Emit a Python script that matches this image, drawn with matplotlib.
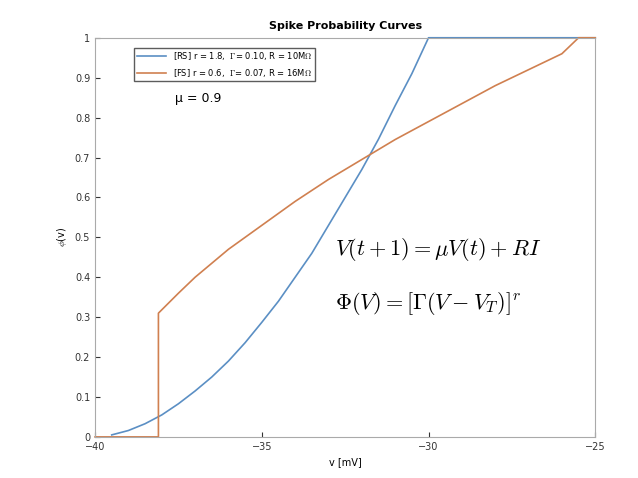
import matplotlib.pyplot as plt
import numpy as np

plt.rcParams['mathtext.fontset'] = 'cm'

# [RS] curve
rs_v = [-39.5, -39, -38.5, -38, -37.5, -37, -36.5, -36, -35.5, -35, -34.5, -34, -33.5, -33,
        -32.5, -32, -31.5, -31, -30.5, -30, -25]
rs_phi = [0.005, 0.016, 0.033, 0.055, 0.083, 0.115, 0.15, 0.19, 0.236, 0.287, 0.34, 0.40,
          0.46, 0.53, 0.60, 0.67, 0.746, 0.83, 0.91, 1.0, 1.0]

# [FS] curve
fs_v = [-40, -38.1, -38.1, -37.5, -37, -36.5, -36, -35.5, -35, -34, -33, -32, -31.5, -31,
        -30, -29, -28, -27, -26, -25.5, -25]
fs_phi = [0.0, 0.0, 0.31, 0.36, 0.40, 0.435, 0.47, 0.50, 0.53, 0.59, 0.645, 0.695, 0.72,
          0.745, 0.79, 0.835, 0.88, 0.92, 0.96, 1.0, 1.0]

fig = plt.figure(figsize=(6.38, 4.78), dpi=100)
ax = fig.add_axes([0.149, 0.086, 0.784, 0.835])

ax.plot(rs_v, rs_phi, color='#5b8fc4', lw=1.2, clip_on=False,
        label=r'[RS] r = 1.8,  $\Gamma$= 0.10, R = 10M$\Omega$')
ax.plot(fs_v, fs_phi, color='#d08050', lw=1.2, clip_on=False,
        label=r'[FS] r = 0.6,  $\Gamma$= 0.07, R = 16M$\Omega$')

ax.set_xlim(-40, -25)
ax.set_ylim(0, 1)
ax.set_xticks([-40, -35, -30, -25])
ax.set_yticks(np.arange(0, 1.01, 0.1))
ax.set_yticklabels(['0', '0.1', '0.2', '0.3', '0.4', '0.5', '0.6', '0.7', '0.8', '0.9', '1'])
ax.tick_params(labelsize=7, direction='in', colors='#333333')
for s in ax.spines.values():
    s.set_color('#aaaaaa')
ax.set_xlabel('v [mV]', fontsize=7)
ax.set_ylabel(r'$\phi$(v)', fontsize=7)
ax.set_title('Spike Probability Curves', fontsize=8, fontweight='bold')

ax.legend(loc='upper left', bbox_to_anchor=(0.07, 0.985), fontsize=6, frameon=True,
          fancybox=False, edgecolor='#333333', handlelength=3.5, borderpad=0.3)

ax.text(0.16, 0.84, 'μ = 0.9', transform=ax.transAxes, fontsize=9)
ax.text(0.48, 0.455, r'$V(t+1) = \mu V(t) + RI$', transform=ax.transAxes, fontsize=16)
ax.text(0.48, 0.32, r'$\Phi(V) = [\Gamma(V - V_T)]^r$', transform=ax.transAxes, fontsize=16)

fig.savefig('out.png', dpi=100)
